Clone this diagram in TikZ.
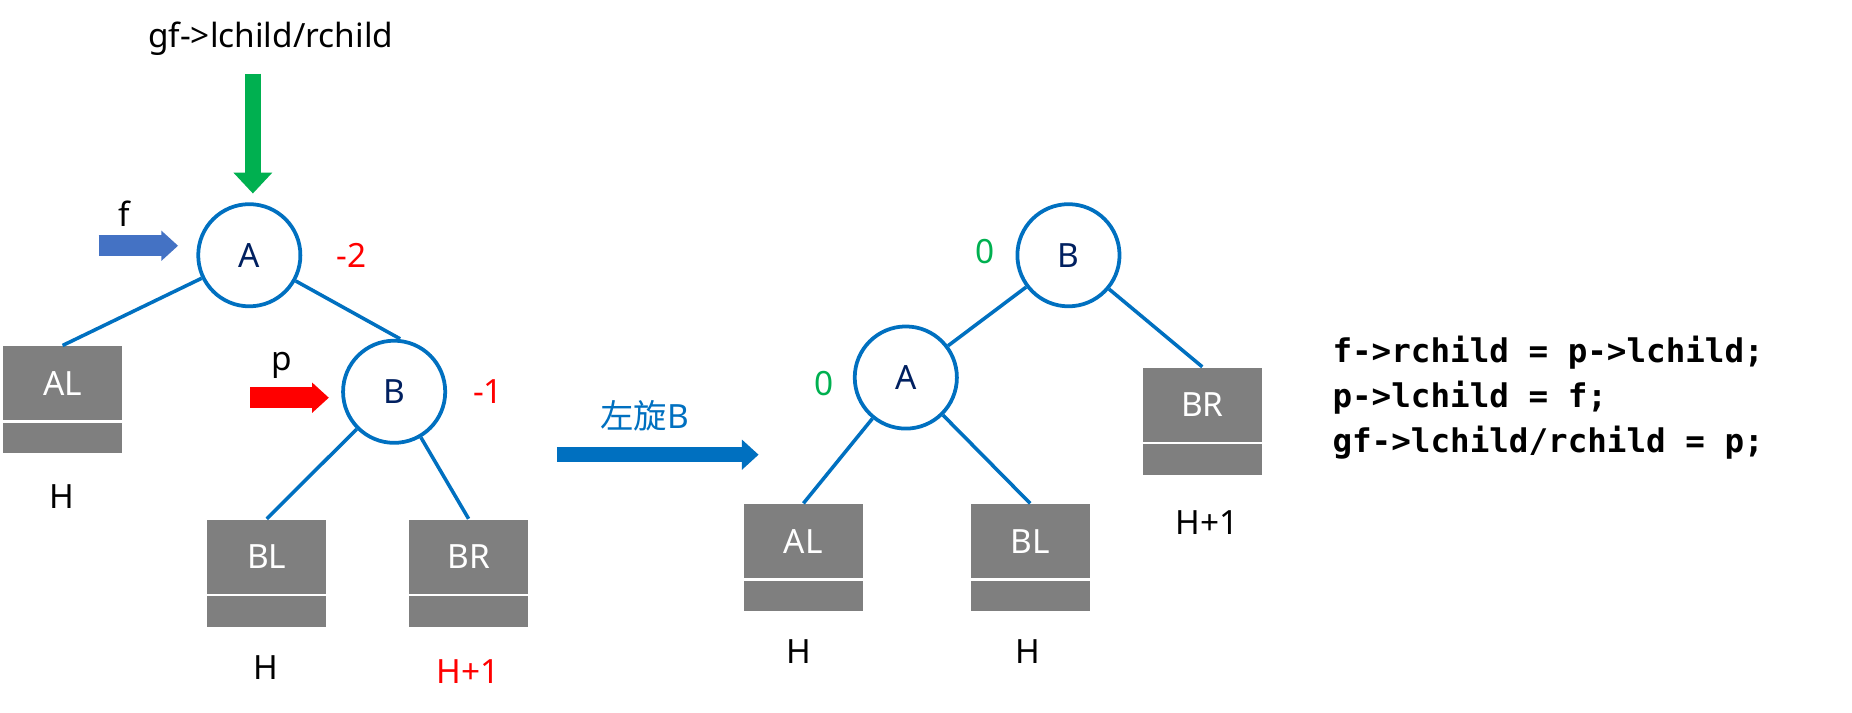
\documentclass[tikz,border=0pt]{standalone}
\usepackage{fontspec}
\setmainfont{Noto Sans}
\newfontfamily\cjk{Noto Sans CJK SC}
\newfontfamily\codefont{DejaVu Sans Mono}
\usetikzlibrary{arrows.meta}
\definecolor{lblue}{HTML}{0070C0}
\definecolor{navy}{HTML}{002060}
\definecolor{gbox}{HTML}{7F7F7F}
\definecolor{grn}{HTML}{00B050}
\definecolor{farrow}{HTML}{4472C4}
\begin{document}
\begin{tikzpicture}[x=0.01cm,y=-0.01cm,
  circ/.style={circle,draw=lblue,line width=0.9pt,fill=white,minimum size=0.86cm,inner sep=0pt,text=navy,font=\fontsize{8}{9}\selectfont},
  edge/.style={draw=lblue,line width=0.85pt},
  lbl/.style={font=\fontsize{8}{9}\selectfont},
  box/.style={fill=gbox,minimum width=1cm,minimum height=0.9cm,inner sep=0pt},
  fat/.style={-{Triangle[length=4pt,width=7pt]}}]
\useasboundingbox (0,0) rectangle (1560,600);
\newcommand{\gbox}[4]{% name, x-left, y-top, label
  \node[box,anchor=north west] (#1) at (#2,#3) {};
  \draw[white,line width=0.6pt] ([yshift=-0.64cm]#1.north west) -- ([yshift=-0.64cm]#1.north east);
  \node[lbl,text=white] (#1t) at ([yshift=-0.32cm]#1.north) {#4};}
% left tree
\node[lbl] (gf) at (228,33) {gf->lchild/rchild};
\coordinate (gs) at (213,62); \coordinate (ge) at (213,163);
\draw[grn,line width=4pt,-{Triangle[length=5pt,width=9pt]}] (gs) -- (ge);
\node[circ] (A) at (210,215) {A};
\node[lbl] (f) at (105,180) {f};
\coordinate (fs) at (83,207); \coordinate (fe) at (150,207);
\draw[farrow,line width=5pt,fat] (fs) -- (fe);
\node[lbl,text=red] (m2) at (296,215) {-2};
\gbox{AL}{2}{291}{AL}
\node[lbl] (hAL) at (52,418) {H};
\node[circ] (B) at (332,330) {B};
\node[lbl] (p) at (237,308) {p};
\coordinate (ps) at (211,335); \coordinate (pe) at (277,335);
\draw[red,line width=5pt,fat] (ps) -- (pe);
\node[lbl,text=red] (m1) at (411,330) {-1};
\gbox{BL}{174}{437}{BL}
\gbox{BR}{344}{437}{BR}
\node[lbl] (hBL) at (224,562) {H};
\node[lbl,text=red] (hBR) at (394,566) {H+1};
\draw[edge] (A) -- (AL.north);
\draw[edge] (A) -- ([xshift=0.05cm]B.north);
\draw[edge] (B) -- (BL.north);
\draw[edge] (B) -- (BR.north);
% rotation arrow
\node[lbl,text=lblue] (rot) at (543,350) {{\cjk 左旋}B};
\coordinate (rs) at (469,383); \coordinate (re) at (639,383);
\draw[lblue,line width=3.5pt,-{Triangle[length=4pt,width=7pt]}] (rs) -- (re);
% right tree
\node[circ] (B2) at (900,215) {B};
\node[lbl,text=grn] (z1) at (830,212) {0};
\node[circ] (A2) at (763,318) {A};
\node[lbl,text=grn] (z2) at (694,323) {0};
\gbox{AL2}{626}{424}{AL}
\gbox{BL2}{817}{424}{BL}
\gbox{BR2}{962}{309}{BR}
\node[lbl] (h1) at (673,549) {H};
\node[lbl] (h2) at (866,549) {H};
\node[lbl] (h3) at (1017,440) {H+1};
\draw[edge] (B2) -- (A2);
\draw[edge] (B2) -- (BR2.north);
\draw[edge] (A2) -- (AL2.north);
\draw[edge] (A2) -- (BL2.north);
% code
\node[anchor=west,align=left,font=\codefont\bfseries\fontsize{7.8}{10.8}\selectfont] (code) at (1110,335)
 {f->rchild = p->lchild;\\p->lchild = f;\\gf->lchild/rchild = p;};
\end{tikzpicture}
\end{document}
